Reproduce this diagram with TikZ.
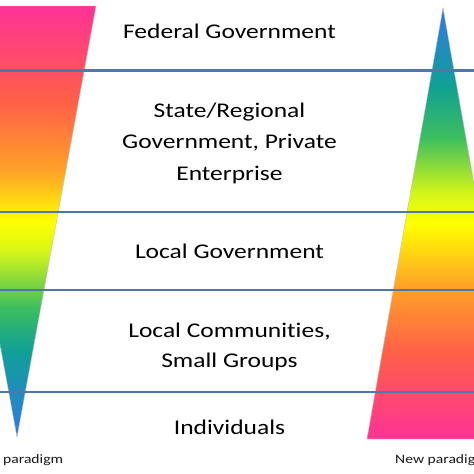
\documentclass[tikz,border=0pt]{standalone}
\usepackage{fontspec}
\setmainfont{Carlito}[FakeStretch=1.22, RawFeature=-liga]
\definecolor{gpink}{RGB}{255,50,150}
\definecolor{gred}{RGB}{255,95,72}
\definecolor{gorange}{RGB}{255,160,40}
\definecolor{gyellow}{RGB}{255,255,0}
\definecolor{gyg}{RGB}{212,245,25}
\definecolor{ggreen}{RGB}{60,190,95}
\definecolor{gteal}{RGB}{16,160,150}
\definecolor{gblue}{RGB}{50,120,230}
\definecolor{linecol}{RGB}{79,119,172}
% bottom of path = 25bp, top of path = 75bp
\pgfdeclareverticalshading{oldgrad}{100bp}{color(0bp)=(gblue); color(25bp)=(gblue); color(35bp)=(gteal); color(40bp)=(ggreen); color(46.5bp)=(gyg); color(50bp)=(gyellow); color(56bp)=(gorange); color(64bp)=(gred); color(75bp)=(gpink); color(100bp)=(gpink)}
\pgfdeclareverticalshading{newgrad}{100bp}{color(0bp)=(gpink); color(25bp)=(gpink); color(35bp)=(gred); color(42.5bp)=(gorange); color(50bp)=(gyellow); color(53.5bp)=(gyg); color(60bp)=(ggreen); color(66bp)=(gteal); color(75bp)=(gblue); color(100bp)=(gblue)}
\tikzset{
  level/.style={line width=2.2pt, draw=linecol},
  lbl/.style={font=\fontsize{20.9}{24}\selectfont, anchor=base, inner sep=0pt, text=black},
  paralbl/.style={font=\fontsize{12.8}{15}\selectfont, anchor=base west, inner sep=0pt, text=black!90},
  tri/.style={draw=black!25, line width=0.4pt}
}
\begin{document}
\begin{tikzpicture}[x=1pt,y=-1pt]
\clip (0,0) rectangle (474,474);
\fill[white] (0,0) rectangle (474,474);
% old paradigm (inverted triangle)
\path[tri, shading=oldgrad] (-62,6) -- (96,6) -- (17,437) -- cycle;
% new paradigm (upright triangle)
\path[tri, shading=newgrad] (443,8) -- (519,439) -- (367,439) -- cycle;
% level lines
\draw[level] (0,70.5) -- (474,70.5);
\draw[level] (0,212) -- (474,212);
\draw[level] (0,290) -- (474,290);
\draw[level] (0,392) -- (474,392);
% labels
\node[lbl] (fed) at (229.5,38) {Federal Government};
\node[lbl] (st1) at (229.5,117) {State/Regional};
\node[lbl] (st2) at (229.5,148.5) {Government, Private};
\node[lbl] (st3) at (229.5,180) {Enterprise};
\node[lbl] (loc) at (229.5,258) {Local Government};
\node[lbl] (com1) at (229.5,337) {Local Communities,};
\node[lbl] (com2) at (229.5,367.5) {Small Groups};
\node[lbl] (ind) at (229.5,434) {Individuals};
\node[paralbl] (old) at (3,463) {paradigm};
\node[paralbl] (new) at (395,463) {New paradig};
\end{tikzpicture}
\end{document}
